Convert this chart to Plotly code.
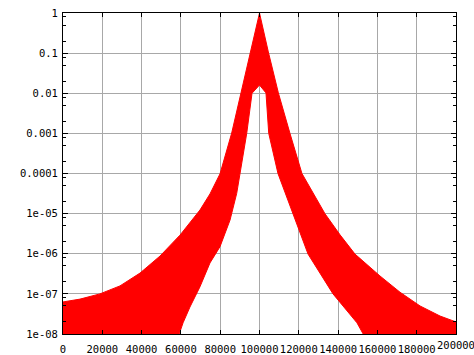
import plotly.graph_objects as go

# Upper envelope of the (densely oscillating) spectrum
upper_x = [0, 8650, 18800, 29000, 39200, 49400, 59500, 69700, 74800, 79900, 85850,
           90600, 95150, 100000, 104500, 109600, 115500, 121600, 133300, 140900,
           148600, 161300, 171500, 181700, 191900, 200000]
upper_y = [6.3e-8, 7.4e-8, 1.0e-7, 1.58e-7, 3.3e-7, 8.8e-7, 2.9e-6, 1.23e-5, 3.1e-5,
           9.8e-5, 1.02e-3, 1.02e-2, 0.107, 1.0, 0.107, 1.02e-2, 1.0e-3, 1.0e-4,
           1.0e-5, 3.0e-6, 9.8e-7, 2.8e-7, 1.1e-7, 5.0e-8, 2.8e-8, 2.0e-8]

# Lower envelope
lower_x = [0, 57000, 61100, 64600, 69700, 74800, 79900, 85000, 88400, 90100, 93500,
           96200, 100000, 103300, 104700, 109400, 117050, 124700, 137400, 149600,
           156200, 200000]
lower_y = [1e-9, 5e-9, 1.9e-8, 4.7e-8, 1.5e-7, 5.9e-7, 1.5e-6, 6.9e-6, 3.2e-5, 1.0e-4,
           1.0e-3, 1.0e-2, 0.016, 1.02e-2, 1.0e-3, 1.0e-4, 1.05e-5, 9.8e-7, 1.0e-7,
           1.9e-8, 5e-9, 1e-9]

x_ticks = [0, 20000, 40000, 60000, 80000, 100000, 120000, 140000, 160000, 180000, 200000]
x_labels = ["0", "20000", "40000", "60000", "80000", "100000", "120000", "140000",
            "160000", "180000", "200000"]
y_ticks = [1e-8, 1e-7, 1e-6, 1e-5, 1e-4, 1e-3, 1e-2, 1e-1, 1]
y_labels = ["1e-08", "1e-07", "1e-06", "1e-05", "0.0001", "0.001", "0.01", "0.1", "1"]
y_minor = [m * 10.0 ** e for e in range(-8, 0) for m in (2, 5, 8)]

poly_x = upper_x + lower_x[::-1]
poly_y = upper_y + lower_y[::-1]

fig = go.Figure()
fig.add_trace(go.Scatter(x=poly_x, y=poly_y, mode="lines", fill="toself",
                         fillcolor="#ff0000", line=dict(color="#ff0000", width=1),
                         hoverinfo="skip", showlegend=False))

font = dict(family="DejaVu Sans Mono", size=10.5, color="black")
fig.update_layout(
    width=474, height=355,
    margin=dict(l=63, r=18, t=13, b=21, autoexpand=False),
    paper_bgcolor="white", plot_bgcolor="white",
    font=font, showlegend=False,
)
fig.update_xaxes(
    range=[0, 200000], tickmode="array", tickvals=x_ticks[:-1], ticktext=x_labels[:-1],
    ticks="inside", ticklen=4, tickcolor="black", showline=True, linecolor="black",
    linewidth=1, mirror="ticks", showgrid=True, gridcolor="#a8a8a8", gridwidth=1,
    zeroline=False, tickfont=font, ticklabelstandoff=5, tickangle=0, automargin=False,
)
# the last x label overflows the page edge in the reference; draw it as text
fig.add_annotation(x=x_ticks[-1], y=0, xref="x", yref="paper", text=x_labels[-1],
                   showarrow=False, xanchor="center", yanchor="top", yshift=-3,
                   font=font)
fig.update_yaxes(
    type="log", range=[-8, 0], tickmode="array", tickvals=y_ticks, ticktext=y_labels,
    ticks="inside", ticklen=5, tickcolor="black", showline=True, linecolor="black",
    linewidth=1, mirror="ticks", showgrid=True, gridcolor="#a8a8a8", gridwidth=1,
    zeroline=False, tickfont=font, ticklabelstandoff=2, automargin=False,
    minor=dict(tickmode="array", tickvals=y_minor, ticks="inside", ticklen=3,
               tickcolor="black", showgrid=False),
)
fig.write_html("out.html")
